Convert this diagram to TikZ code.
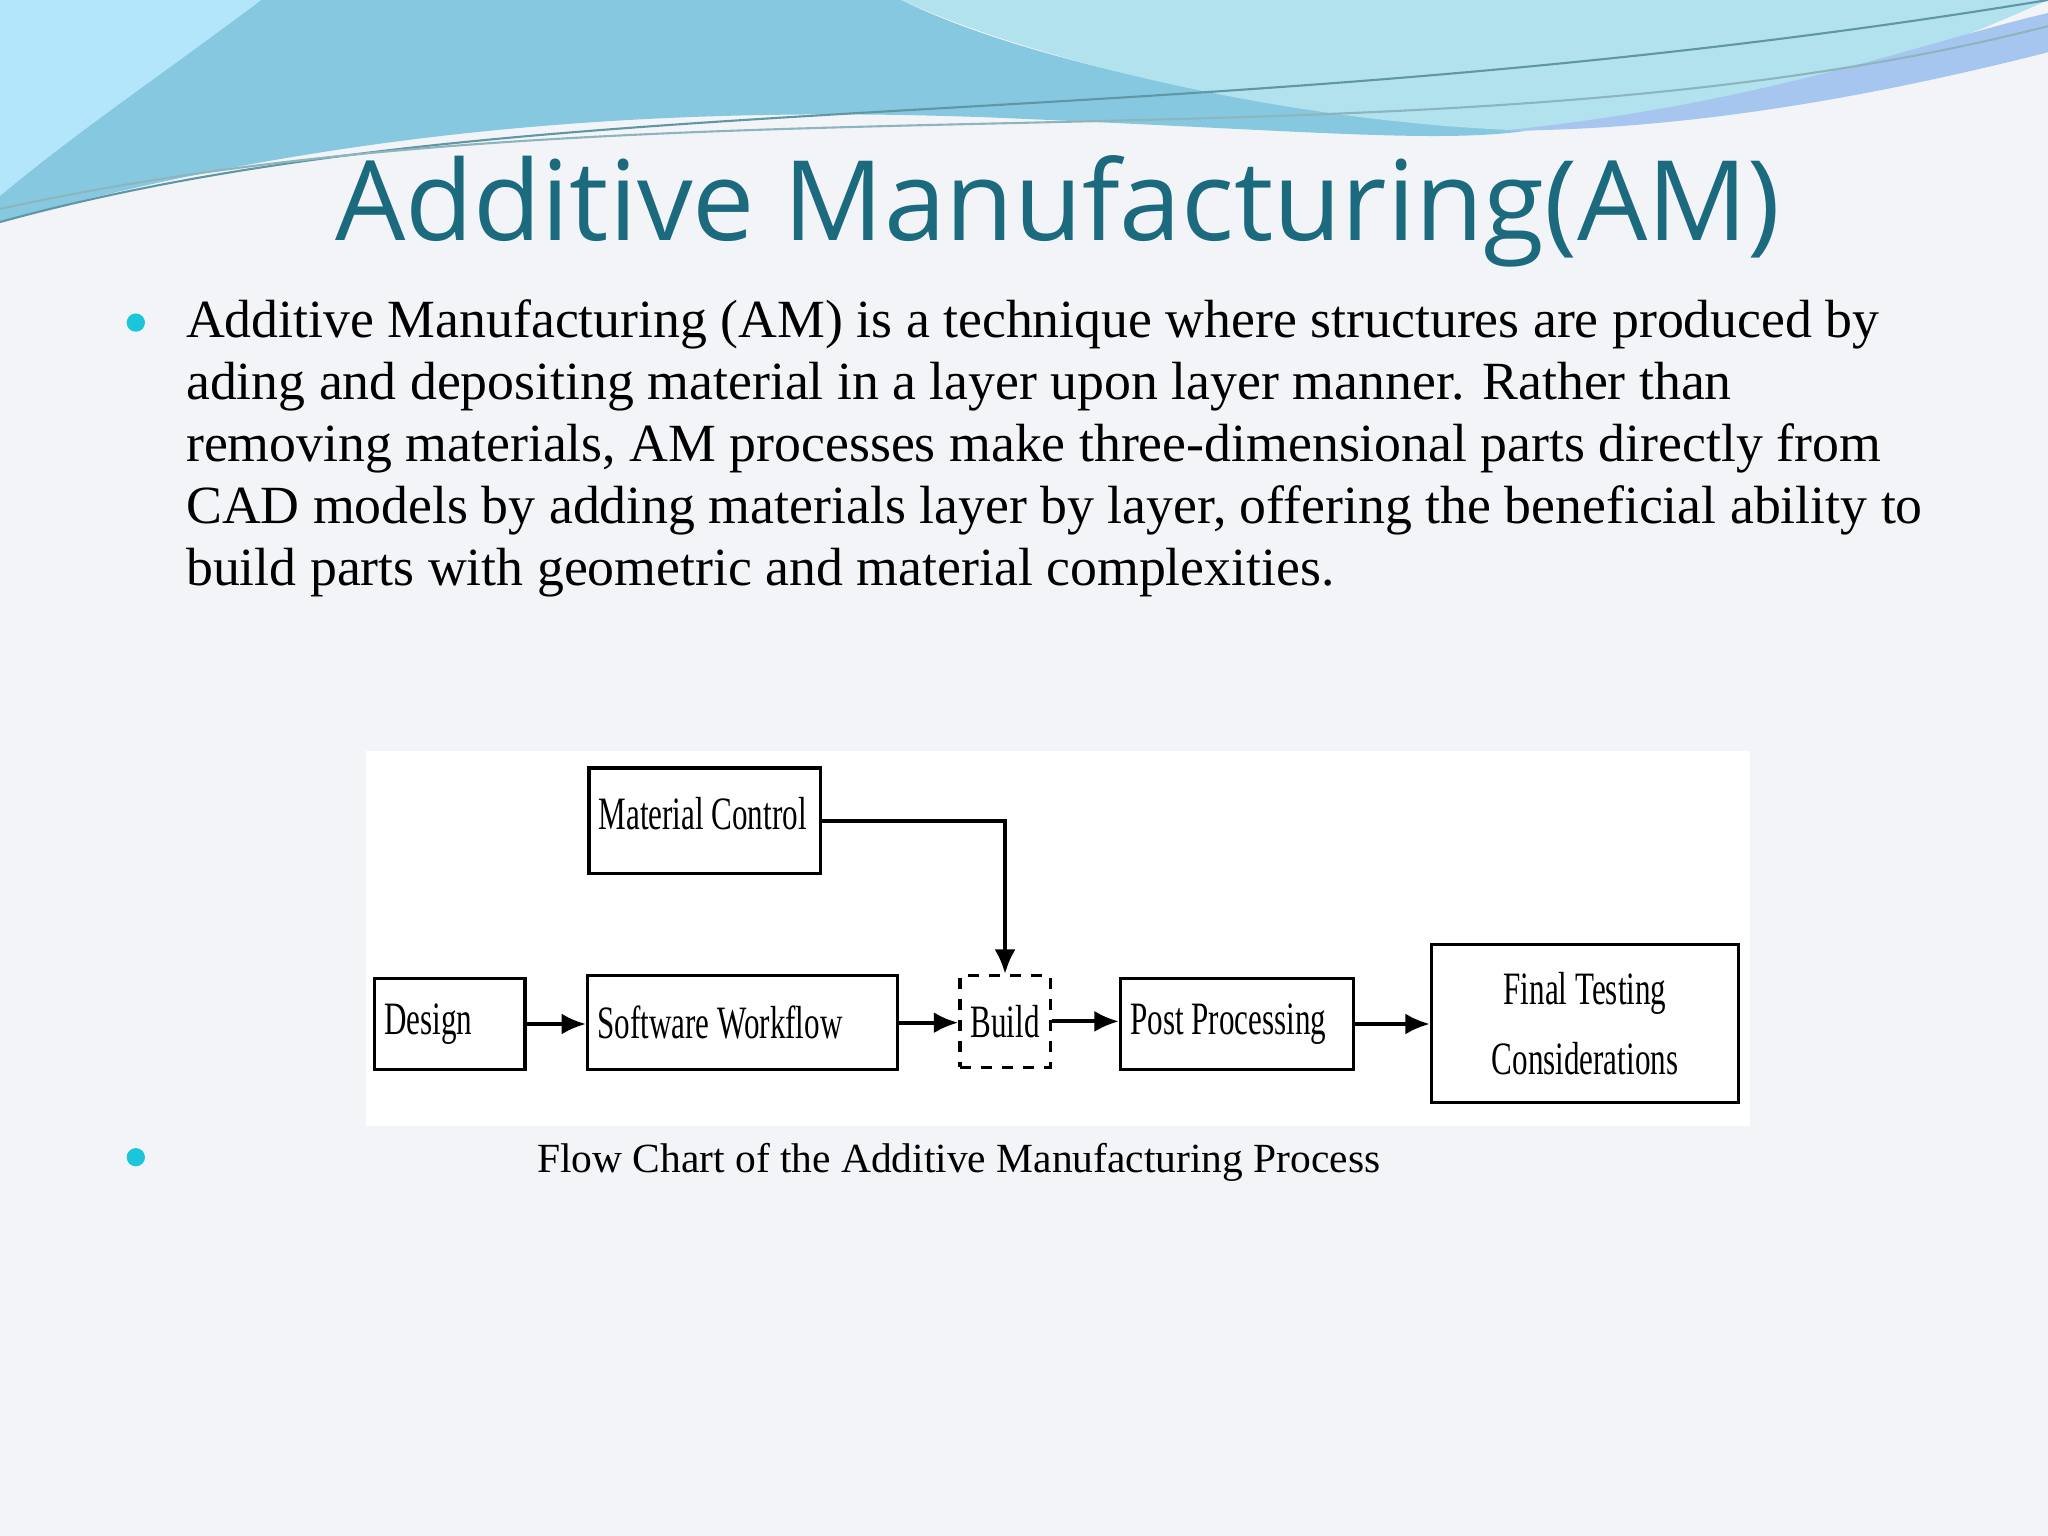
\documentclass[tikz,border=0pt]{standalone}
\usepackage{fontspec}
\setmainfont{Liberation Serif}
\newfontfamily\titlefont{Open Sans}
\usetikzlibrary{arrows.meta}
\definecolor{bg}{HTML}{F3F4F8}
\definecolor{ttl}{HTML}{1B6A7E}
\definecolor{wave1}{HTML}{86C8E0}
\definecolor{wave2}{HTML}{B2E2EE}
\definecolor{bul}{HTML}{1CC6DA}
\newcommand{\cond}[1]{\scalebox{0.67}[1]{#1}}
\begin{document}
\begin{tikzpicture}[x=0.013061cm,y=-0.013061cm,
  box/.style={draw,line width=0.9pt,fill=white,inner sep=0pt},
  lbl/.style={font=\fontsize{13.2}{15}\selectfont,inner sep=0pt},
  arr/.style={line width=1.2pt,-{Latex[length=7pt,width=6pt]}}]
\useasboundingbox (0,0) rectangle (1568,1176);
\fill[bg] (0,0) rectangle (1568,1176);
% waves
\fill[wave1] (0,0) -- (0,170) .. controls (250,100) and (500,80) .. (760,90) .. controls (1000,100) and (1100,110) .. (1170,100) .. controls (900,80) and (750,30) .. (690,0) -- cycle;
\fill[wave2] (690,0) .. controls (800,50) and (1000,95) .. (1170,100) .. controls (1350,90) and (1480,40) .. (1568,0) -- cycle;
\fill[wave1!80!blue!60] (1150,100) .. controls (1350,80) and (1480,30) .. (1568,10) -- (1568,40) .. controls (1450,70) and (1300,100) .. (1150,100) -- cycle;
\fill[cyan!30] (0,150) .. controls (60,100) and (120,60) .. (200,0) -- (0,0) -- cycle;
\draw[ttl!70,line width=0.6pt] (0,170) .. controls (400,60) and (900,110) .. (1568,0);
\draw[ttl!50,line width=0.6pt] (0,160) .. controls (500,50) and (1100,140) .. (1568,20);
% title
\node[text=ttl,font=\titlefont\fontsize{31.6}{36}\selectfont] (title) at (810,162) {Additive Manufacturing(AM)};
% bullets
\fill[bul] (104,247) circle (7);
\fill[bul] (104,886) circle (7);
\node[anchor=north west,inner sep=0pt,align=left,
  font=\fontsize{15.3}{17.6}\selectfont] (para) at (142,229)
{Additive Manufacturing (AM) is a technique where structures are produced by\\ ading and depositing material in a layer upon layer manner. Rather than\\ removing materials, AM processes make three-dimensional parts directly from\\ CAD models by adding materials layer by layer, offering the beneficial ability to\\ build parts with geometric and material complexities.};
% diagram
\fill[white] (280,575) rectangle (1340,862);
\node[box,minimum width=177*0.013061cm,minimum height=81*0.013061cm] (mc) at (539.5,628.5) {};
\node[lbl,anchor=west] (mct) at ([xshift=8*0.013061cm,yshift=2pt]mc.west) {\cond{Material Control}};
\node[box,minimum width=115*0.013061cm,minimum height=70*0.013061cm] (design) at (344.5,784) {};
\node[lbl,anchor=west] (dt) at ([xshift=8*0.013061cm]design.west) {\cond{Design}};
\node[box,minimum width=237*0.013061cm,minimum height=72*0.013061cm] (sw) at (568.5,783) {};
\node[lbl,anchor=west] (swt) at ([xshift=8*0.013061cm]sw.west) {\cond{Software Workflow}};
\node[box,dashed,minimum width=69*0.013061cm,minimum height=70*0.013061cm,lbl] (build) at (769.5,782) {\cond{Build}};
\node[box,minimum width=178*0.013061cm,minimum height=70*0.013061cm] (post) at (947,784) {};
\node[lbl,anchor=west] (pt) at ([xshift=8*0.013061cm]post.west) {\cond{Post Processing}};
\node[box,minimum width=235*0.013061cm,minimum height=121*0.013061cm,lbl,align=center] (final) at (1213.5,783.5) {\cond{Final Testing}\\[5pt]\cond{Considerations}};
\draw[arr] (design.east) -- (sw.west |- design.east);
\draw[arr] (sw.east) -- (build.west |- sw.east);
\draw[arr] (build.east) -- (post.west |- build.east);
\draw[arr] (post.east) -- (final.west |- post.east);
\draw[arr] (mc.east) -| (build.north);
\node[font=\fontsize{11.8}{13}\selectfont] (cap) at (734,890) {Flow Chart of the Additive Manufacturing Process};
\end{tikzpicture}
\end{document}
